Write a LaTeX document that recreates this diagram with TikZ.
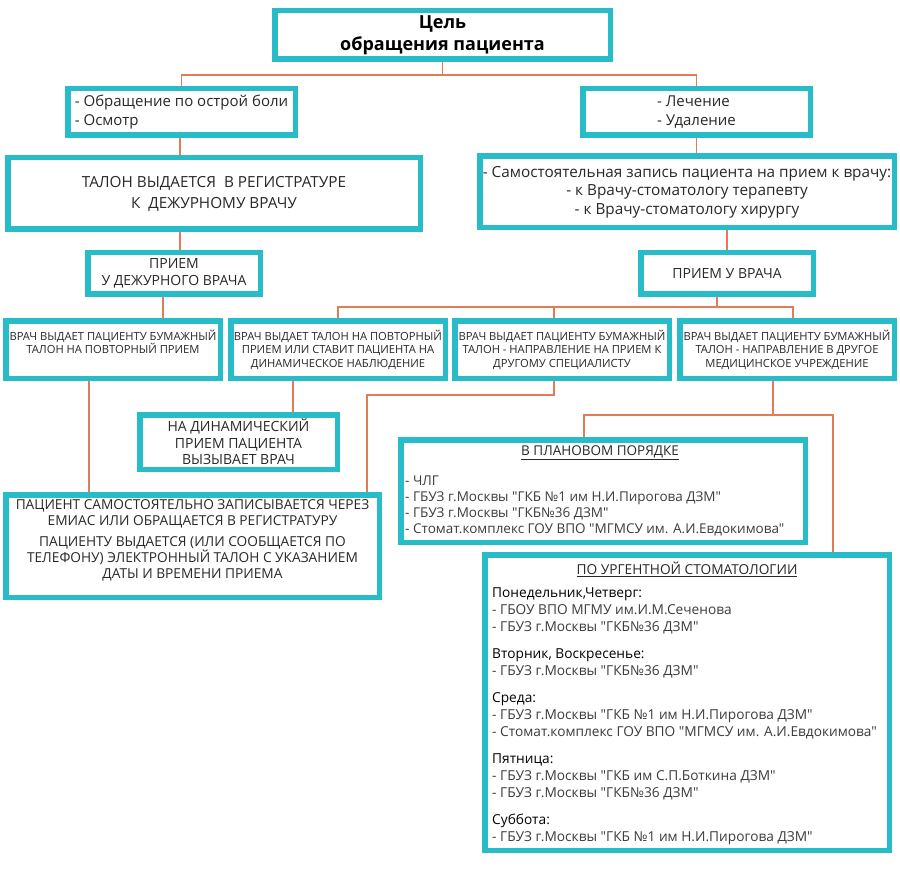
\documentclass[tikz,border=0pt]{standalone}
\usepackage{fontspec}
\setmainfont{Open Sans}[Ligatures=TeXOff]
\usetikzlibrary{backgrounds}
\definecolor{boxcyan}{RGB}{40,188,200}
\definecolor{connor}{RGB}{224,124,88}
\definecolor{txt}{RGB}{40,40,40}
\definecolor{itm}{RGB}{60,60,60}
\tikzset{
  box/.style={draw=boxcyan, line width=5.5pt, fill=white, rectangle, inner sep=1pt, text=txt, align=center},
  conn/.style={draw=connor, line width=1.8pt},
  lbl/.style={inner sep=0pt, text=txt},
}
\newcommand{\fs}[2]{\fontsize{#1}{#2}\selectfont}
\newcommand{\hd}[1]{\textcolor{black}{#1}}
\begin{document}
\begin{tikzpicture}[x=1pt,y=-1pt]
\useasboundingbox (0,0) rectangle (900,869);
% boxes
\node[box, minimum width=335.5, minimum height=48.5, font=\fs{18}{22}\bfseries, text=black] (goal) at (442.5,35) {Цель\\обращения пациента};
\node[box, minimum width=227.5, minimum height=46.5, font=\fs{15}{19}, align=left] (acute) at (181.5,112) {- Обращение по острой боли\\- Осмотр};
\node[box, minimum width=227.5, minimum height=46.5, font=\fs{15}{19}, align=left] (treat) at (696.5,112) {- Лечение\\- Удаление};
\node[box, minimum width=412.5, minimum height=71.5, font=\fs{15.3}{21}] (talon) at (214,193.5) {ТАЛОН ВЫДАЕТСЯ \ В РЕГИСТРАТУРЕ\\К \ ДЕЖУРНОМУ ВРАЧУ};
\node[box, minimum width=414.5, minimum height=71.5, font=\fs{15.3}{18.5}] (self) at (687,192) {- Самостоятельная запись пациента на прием к врачу:\\- к Врачу-стоматологу терапевту\\- к Врачу-стоматологу хирургу};
\node[box, minimum width=172.5, minimum height=41.5, font=\fs{14}{17}] (duty) at (174,273.5) {ПРИЕМ\\У ДЕЖУРНОГО ВРАЧА};
\node[box, minimum width=172.5, minimum height=41.5, font=\fs{14}{17}] (doc) at (727,273.5) {ПРИЕМ У ВРАЧА};
\node[box, minimum width=214.5, minimum height=57.5, font=\fs{11.2}{13.5}] (rA) at (113,349.5) {ВРАЧ ВЫДАЕТ ПАЦИЕНТУ БУМАЖНЫЙ\\ТАЛОН НА ПОВТОРНЫЙ ПРИЕМ\\[2pt]};
\node[box, minimum width=214.5, minimum height=57.5, font=\fs{11.2}{13.5}] (rB) at (338,349.5) {ВРАЧ ВЫДАЕТ ТАЛОН НА ПОВТОРНЫЙ\\ПРИЕМ ИЛИ СТАВИТ ПАЦИЕНТА НА\\ДИНАМИЧЕСКОЕ НАБЛЮДЕНИЕ};
\node[box, minimum width=214.5, minimum height=57.5, font=\fs{11.2}{13.5}] (rC) at (562,349.5) {ВРАЧ ВЫДАЕТ ПАЦИЕНТУ БУМАЖНЫЙ\\ТАЛОН - НАПРАВЛЕНИЕ НА ПРИЕМ К\\ДРУГОМУ СПЕЦИАЛИСТУ};
\node[box, minimum width=214.5, minimum height=57.5, font=\fs{11.2}{13.5}] (rD) at (787,349.5) {ВРАЧ ВЫДАЕТ ПАЦИЕНТУ БУМАЖНЫЙ\\ТАЛОН - НАПРАВЛЕНИЕ В ДРУГОЕ\\МЕДИЦИНСКОЕ УЧРЕЖДЕНИЕ};
\node[box, minimum width=197.5, minimum height=54.5, font=\fs{14}{16.5}] (dyn) at (238.5,442) {НА ДИНАМИЧЕСКИЙ\\ПРИЕМ ПАЦИЕНТА\\ВЫЗЫВАЕТ ВРАЧ};
\node[box, minimum width=373.5, minimum height=102.5] (pat) at (192.5,546) {};
\node[box, minimum width=404.5, minimum height=102.5] (plan) at (603,491) {};
\node[box, minimum width=404.5, minimum height=295.5] (urg) at (687,702.5) {};
% texts in the large boxes
\node[lbl, align=center, font=\fs{13.7}{16}] (pattxt) at (192.5,540) {ПАЦИЕНТ САМОСТОЯТЕЛЬНО ЗАПИСЫВАЕТСЯ ЧЕРЕЗ\\ЕМИАС ИЛИ ОБРАЩАЕТСЯ В РЕГИСТРАТУРУ\\[5pt]ПАЦИЕНТУ ВЫДАЕТСЯ (ИЛИ СООБЩАЕТСЯ ПО\\ТЕЛЕФОНУ) ЭЛЕКТРОННЫЙ ТАЛОН С УКАЗАНИЕМ\\ДАТЫ И ВРЕМЕНИ ПРИЕМА};
\node[lbl, font=\fs{13.5}{16}] (plantitle) at (600,453) {\underline{В ПЛАНОВОМ ПОРЯДКЕ}};
\node[lbl, anchor=north west, align=left, font=\fs{13.5}{16}, text=itm] (planlist) at (405,476) {- ЧЛГ\\- ГБУЗ г.Москвы "ГКБ №1 им Н.И.Пирогова ДЗМ"\\- ГБУЗ г.Москвы "ГКБ№36 ДЗМ"\\- Стомат.комплекс ГОУ ВПО "МГМСУ им. А.И.Евдокимова"};
\node[lbl, font=\fs{13.7}{16}] (urgtitle) at (687,569) {\underline{ПО УРГЕНТНОЙ СТОМАТОЛОГИИ}};
\node[lbl, anchor=north west, align=left, font=\fs{13.7}{17}, text=itm] (urglist) at (492,588) {%
\hd{Понедельник,Четверг:}\\- ГБОУ ВПО МГМУ им.И.М.Сеченова\\- ГБУЗ г.Москвы "ГКБ№36 ДЗМ"\\[10pt]%
\hd{Вторник, Воскресенье:}\\- ГБУЗ г.Москвы "ГКБ№36 ДЗМ"\\[10pt]%
\hd{Среда:}\\- ГБУЗ г.Москвы "ГКБ №1 им Н.И.Пирогова ДЗМ"\\- Стомат.комплекс ГОУ ВПО "МГМСУ им. А.И.Евдокимова"\\[10pt]%
\hd{Пятница:}\\- ГБУЗ г.Москвы "ГКБ им С.П.Боткина ДЗМ"\\- ГБУЗ г.Москвы "ГКБ№36 ДЗМ"\\[10pt]%
\hd{Суббота:}\\- ГБУЗ г.Москвы "ГКБ №1 им Н.И.Пирогова ДЗМ"};
% connectors
\begin{pgfonlayer}{background}
\draw[conn] (goal.south) -- ++(0,13) coordinate (gj) -| (acute.north);
\draw[conn] (gj) -| (treat.north);
\draw[conn] ([xshift=-1.5]acute.south) -- ([xshift=-1.5]acute.south |- talon.north);
\draw[conn] ([xshift=-1.5]acute.south |- talon.south) -- ([xshift=-1.5]acute.south |- duty.north);
\draw[conn] (treat.south) -- (treat.south |- self.north);
\draw[conn] (doc.north |- self.south) -- (doc.north);
\draw[conn] ([xshift=-11]duty.south) coordinate (d1) -- (d1 |- rA.north);
\draw[conn] ([xshift=-10]doc.south) -- ++(0,10) coordinate (bus);
\draw[conn] (rB.north) |- (bus) -| ([xshift=6]rD.north);
\draw[conn] ([xshift=-8]rC.north) -- ([xshift=-8]rC.north |- bus);
\draw[conn] ([xshift=-24]rA.south) coordinate (a1) -- (a1 |- pat.north);
\draw[conn] ([xshift=-45]rB.south) coordinate (b1) -- (b1 |- dyn.north);
\draw[conn] ([xshift=-8]rC.south) -- ++(0,14) -| ([xshift=174.5]pat.north);
\draw[conn] ([xshift=-14]rD.south) -- ++(0,34) coordinate (dj);
\draw[conn] ([xshift=-19]plan.north) |- (dj) -| ([xshift=146]urg.north);
\end{pgfonlayer}
\end{tikzpicture}
\end{document}
